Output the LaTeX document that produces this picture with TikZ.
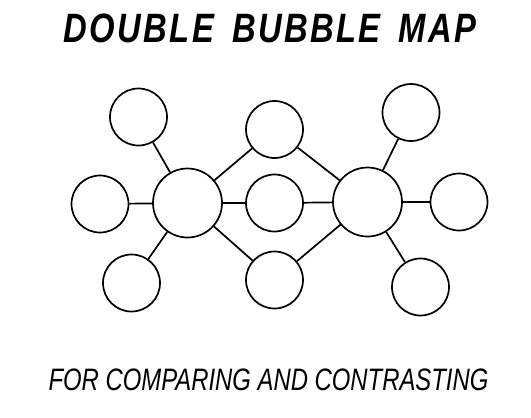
\documentclass[tikz,border=0pt]{standalone}
\usepackage{fontspec}
\setmainfont{Liberation Sans}
\newfontfamily\titlefont[LetterSpace=7,WordSpace=1.6]{Liberation Sans}
\usetikzlibrary{positioning}
\tikzset{bubble/.style={circle,draw,line width=1.7pt,minimum size=57pt,inner sep=0pt},
         bigbubble/.style={bubble,minimum size=69pt},
         link/.style={line width=1.7pt}}

\begin{document}
\begin{tikzpicture}[x=1pt,y=-1pt]
        \useasboundingbox (0,0) rectangle (531,418);
        % titles
        \node[inner sep=0pt] (title) at (270,28)
                {\titlefont\fontsize{41}{41}\selectfont\bfseries\itshape\scalebox{0.8}[1]{DOUBLE BUBBLE MAP}};
        \node[inner sep=0pt] (caption) at (268.5,380)
                {\fontsize{31}{31}\selectfont\itshape\scalebox{0.77}[1]{FOR COMPARING AND CONTRASTING}};
        % the two main bubbles
        \node[bigbubble] (lmain) at (187.5,203) {};
        \node[bigbubble] (rmain) at (367.5,202) {};
        % shared bubbles
        \node[bubble] (stop) at (274.5,129.5) {};
        \node[bubble] (smid) at (274.5,203)   {};
        \node[bubble] (sbot) at (274.5,280)   {};
        % left bubbles
        \node[bubble] (ltop) at (138.5,117) {};
        \node[bubble] (lmid) at (100,204)   {};
        \node[bubble] (lbot) at (131.5,283) {};
        % right bubbles
        \node[bubble] (rtop) at (411,112.5) {};
        \node[bubble] (rmid) at (459,202)   {};
        \node[bubble] (rbot) at (420.5,287) {};
        \path[link]
                (lmain) edge (ltop)
                (lmain) edge (lmid)
                (lmain) edge (lbot)
                (lmain) edge (stop)
                (lmain) edge (smid)
                (lmain) edge (sbot)
                (rmain) edge (stop)
                (rmain) edge (smid)
                (rmain) edge (sbot)
                (rmain) edge (rtop)
                (rmain) edge (rmid)
                (rmain) edge (rbot)
                ;
\end{tikzpicture}
\end{document}
